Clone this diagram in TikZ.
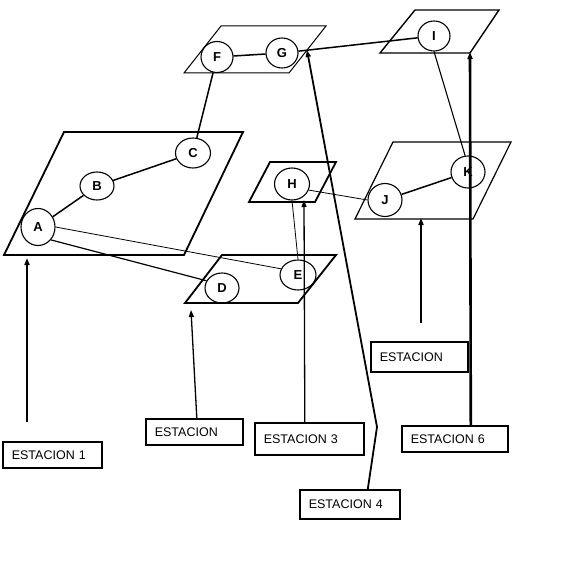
\documentclass[tikz,border=0pt]{standalone}
\usepackage{fontspec}
\setmainfont{Liberation Sans}
\usetikzlibrary{shapes.geometric,arrows.meta}
\begin{document}
\begin{tikzpicture}[x=1pt,y=-1pt,
 plane/.style={line width=1.8pt,line join=miter},
 thinplane/.style={line width=1pt,line join=miter},
 vtx/.style={ellipse,draw,line width=1.1pt,inner sep=0pt,minimum width=34pt,minimum height=31pt,font=\fontsize{13}{13}\selectfont\bfseries},
 lnk/.style={line width=1.5pt},
 thinlnk/.style={line width=0.8pt},
 stbox/.style={draw,line width=1.6pt,anchor=north west,font=\fontsize{12.5}{13}\selectfont,align=left,inner xsep=9pt,inner ysep=0pt},
 arr/.style={-{Triangle[length=7pt,width=5pt]}}
]
\useasboundingbox (0,0) rectangle (566,583);
% planes
\draw[plane] (64,132) -- (243,132) -- (184,255) -- (4,255) -- cycle;
\draw[thinplane] (221,26) -- (326,26) -- (289,73) -- (184,73) -- cycle;
\draw[line width=1.4pt] (415,10) -- (499,10) -- (470,53) -- (380,53) -- cycle;
\draw[plane] (270,162) -- (336,162) -- (315,202) -- (249,202) -- cycle;
\draw[line width=1.2pt] (393,142) -- (511,142) -- (473,219) -- (355,219) -- cycle;
\draw[plane] (222,255) -- (336,255) -- (298,303) -- (185,303) -- cycle;
% vertices
\node[vtx,minimum height=37pt] (A) at (38,227) {A};
\node[vtx,minimum height=28pt] (B) at (97,186) {B};
\node[vtx,minimum width=35pt,minimum height=30pt] (C) at (193,153) {C};
\node[vtx,minimum width=32pt] (F) at (217,57) {F};
\node[vtx,minimum width=32pt,minimum height=30pt] (G) at (282,53) {G};
\node[vtx,minimum width=32pt,minimum height=30pt] (I) at (434,36) {I};
\node[vtx,minimum width=35pt,minimum height=32pt] (H) at (292,184) {H};
\node[vtx,minimum height=33pt] (J) at (385,200) {J};
\node[vtx,minimum height=32pt] (K) at (468,172) {K};
\node[vtx,minimum width=36pt,minimum height=30pt] (E) at (298,275) {E};
\node[vtx,minimum height=30pt] (D) at (222,288) {D};
% links
\draw[lnk] (A) -- (B);
\draw[lnk] (B) -- (C);
\draw[lnk] (C) -- (F);
\draw[lnk] (F) -- (G);
\draw[lnk] (G) -- (I);
\draw[lnk] (J) -- (K);
\draw[line width=1.1pt] (K.100) -- (I.south);
\draw[thinlnk] (H.-20) -- (J.west);
\draw[thinlnk] (H.south) -- (E.north);
\draw[thinlnk] (A.east) -- (E.160);
\draw[line width=1.2pt] (A.-45) -- (D.155);
% station boxes
\node[stbox,text width=81pt,minimum height=26pt] (e1) at (2,441) {ESTACION 1};
\node[stbox,text width=79pt,minimum height=26pt] (em) at (145,418) {ESTACION};
\node[stbox,text width=91pt,minimum height=32pt] (e3) at (254,422) {ESTACION 3};
\node[stbox,text width=82pt,minimum height=29pt] (e4) at (299,489) {ESTACION 4};
\node[stbox,text width=79pt,minimum height=30pt] (er) at (370,341) {ESTACION};
\node[stbox,text width=88pt,minimum height=26pt] (e6) at (401,425) {ESTACION 6};
% arrows
\coordinate (e1t) at (27,422);
\coordinate (e1h) at (27,258);
\draw[arr,line width=1.8pt] (e1t) -- (e1h);
\coordinate (emh) at (191,310);
\draw[arr,line width=1.3pt] ([xshift=2.5pt]em.north) -- (emh);
\coordinate (e3h) at (304,200);
\draw[arr,line width=1.3pt] ([xshift=-4.5pt]e3.north) -- (e3h);
\coordinate (e4b) at (377,427);
\coordinate (e4h) at (307,50);
\draw[arr,line width=1.8pt] ([xshift=18pt]e4.north) -- (e4b) -- (e4h);
\coordinate (ert) at (421,323);
\coordinate (erh) at (421,218);
\draw[arr,line width=2.6pt] (ert) -- (erh);
\coordinate (e6h) at (470,52);
\draw[arr,line width=2.6pt] ([xshift=16pt]e6.north) -- (e6h);
\end{tikzpicture}
\end{document}
